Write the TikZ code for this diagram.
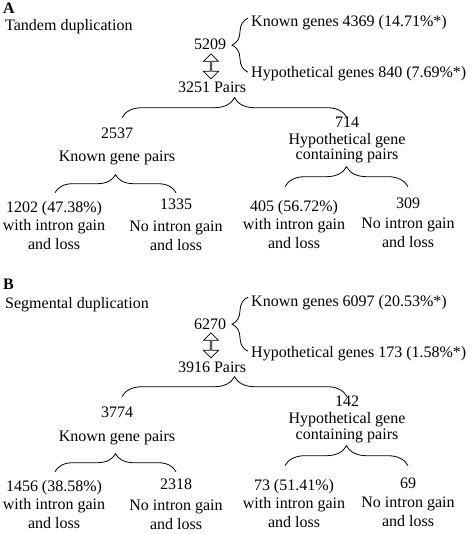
\documentclass[tikz,border=0pt]{standalone}
\usepackage{fontspec}
\setmainfont{Liberation Serif}
\usetikzlibrary{shapes.arrows,decorations.pathreplacing,calc}

\tikzset{
  lbl/.style={inner sep=2pt, font=\fontsize{16}{18.5}\selectfont, align=center},
  tag/.style={lbl, font=\fontsize{16}{18.5}\selectfont\bfseries},
  brc/.style={decorate, decoration={brace, amplitude=#1}, line width=0.8pt},
  brc/.default=18pt,
  dblarr/.style={double arrow, draw, fill=white, line width=0.7pt, rotate=90,
    minimum height=25pt, minimum width=15pt, double arrow head extend=3.5pt, inner sep=0pt}
}

\begin{document}
\begin{tikzpicture}[x=1pt, y=-1pt]
            \useasboundingbox (0,0) rectangle (474,534);

            % Panel A: tandem duplication
            \node[tag, anchor=base west] (tagA) at (1,14) {A};
            \node[lbl, anchor=base west] (titleA) at (3,31) {Tandem duplication};
            \node[lbl, anchor=base] (totA) at (210,50) {5209};
            \node[lbl, anchor=base west] (knownA) at (249,27) {Known genes 4369 (14.71\%*)};
            \node[lbl, anchor=base west] (hypoA) at (249,78) {Hypothetical genes 840 (7.69\%*)};
            \node[lbl, anchor=base] (pairsA) at (212,93) {3251 Pairs};
            \node[lbl, anchor=base] (kpA) at (117,162) {2537\\[5pt]Known gene pairs};
            \node[lbl, anchor=base] (hpA) at (347,160) {714\\[-1.5pt]Hypothetical gene\\[-3pt]containing pairs};
            \node[lbl, anchor=base] (kaA) at (54,249) {1202 (47.38\%)\\with intron gain\\and loss};
            \node[lbl, anchor=base] (kbA) at (176,250) {1335\\[3pt]No intron gain\\and loss};
            \node[lbl, anchor=base] (haA) at (294,248) {405 (56.72\%)\\with intron gain\\and loss};
            \node[lbl, anchor=base] (hbA) at (408,247) {309\\[1pt]No intron gain\\and loss};

            % Braces and the open double arrow
            \draw[brc=16pt] ([shift={(-1,-2)}]hypoA.west) -- ([shift={(-1,-5)}]knownA.west);
            \node[dblarr] (linkA) at ($(totA.south)!.5!(pairsA.north)$) {};
            \draw[brc=20pt] ([shift={(5,-8)}]kpA.north) -- ([shift={(0,-8)}]kpA.north -| hpA.north);
            \draw[brc=18pt] ([shift={(1,-6)}]kaA.north) -- ([shift={(0,-6)}]kaA.north -| kbA.north);
            \draw[brc=20pt] ([shift={(-9,-11)}]haA.north) -- ([shift={(0,-11)}]haA.north -| hbA.north);

            % Panel B: segmental duplication
            \begin{scope}[shift={(0,279)}]
            \node[tag, anchor=base west] (tagB) at (1,10) {B};
            \node[lbl, anchor=base west] (titleB) at (3,29) {Segmental duplication};
            \node[lbl, anchor=base] (totB) at (210,50) {6270};
            \node[lbl, anchor=base west] (knownB) at (249,27) {Known genes 6097 (20.53\%*)};
            \node[lbl, anchor=base west] (hypoB) at (249,78) {Hypothetical genes 173 (1.58\%*)};
            \node[lbl, anchor=base] (pairsB) at (212,93) {3916 Pairs};
            \node[lbl, anchor=base] (kpB) at (117,162) {3774\\[5pt]Known gene pairs};
            \node[lbl, anchor=base] (hpB) at (347,160) {142\\[-1.5pt]Hypothetical gene\\[-3pt]containing pairs};
            \node[lbl, anchor=base] (kaB) at (54,249) {1456 (38.58\%)\\with intron gain\\and loss};
            \node[lbl, anchor=base] (kbB) at (176,250) {2318\\[3pt]No intron gain\\and loss};
            \node[lbl, anchor=base] (haB) at (294,248) {73 (51.41\%)\\with intron gain\\and loss};
            \node[lbl, anchor=base] (hbB) at (408,247) {69\\[1pt]No intron gain\\and loss};

            \draw[brc=16pt] ([shift={(-1,-2)}]hypoB.west) -- ([shift={(-1,-5)}]knownB.west);
            \node[dblarr] (linkB) at ($(totB.south)!.5!(pairsB.north)$) {};
            \draw[brc=20pt] ([shift={(5,-8)}]kpB.north) -- ([shift={(0,-8)}]kpB.north -| hpB.north);
            \draw[brc=18pt] ([shift={(1,-6)}]kaB.north) -- ([shift={(0,-6)}]kaB.north -| kbB.north);
            \draw[brc=20pt] ([shift={(-9,-11)}]haB.north) -- ([shift={(0,-11)}]haB.north -| hbB.north);
            \end{scope}
        \end{tikzpicture}
\end{document}
